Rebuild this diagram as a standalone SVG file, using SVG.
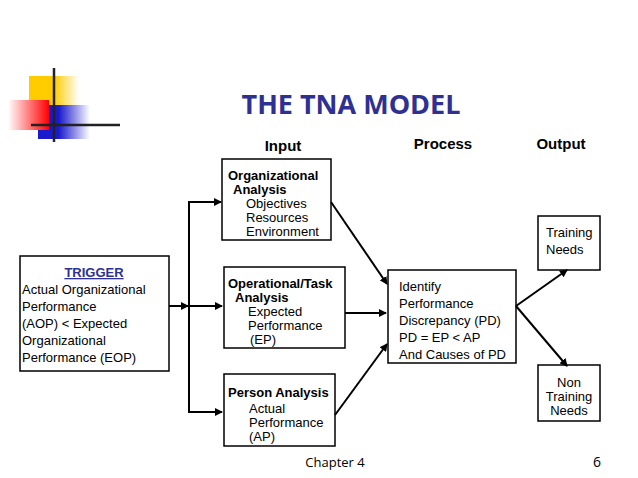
<svg xmlns="http://www.w3.org/2000/svg" width="638" height="478" viewBox="0 0 638 478">
<style>
.b{fill:#fff;stroke:#000;stroke-width:1.5}
text{font-family:"Liberation Sans",Arial,sans-serif;font-size:13px;fill:#000}
.bd{font-weight:bold}
.h{font-size:15px;font-weight:bold}
.c{stroke:#000;stroke-width:2;fill:none}
</style>
<defs>
<marker id="a" markerWidth="8" markerHeight="8" refX="7" refY="4" orient="auto" markerUnits="userSpaceOnUse"><path d="M0,0L8,4L0,8z" fill="#000"/></marker>
<linearGradient id="gy" x1="0" x2="1"><stop offset="0.5" stop-color="#ffcc00"/><stop offset="1" stop-color="#fff"/></linearGradient>
<linearGradient id="gr" x1="1" x2="0"><stop offset="0" stop-color="#ff0000"/><stop offset="1" stop-color="#fff"/></linearGradient>
<linearGradient id="gb" x1="0" x2="1"><stop offset="0.4" stop-color="#1a1acc"/><stop offset="1" stop-color="#fff"/></linearGradient>
</defs>
<rect width="638" height="478" fill="#fff"/>
<g id="logo">
<rect x="29" y="76" width="50" height="30" fill="url(#gy)"/>
<rect x="38" y="105" width="52" height="34" fill="url(#gb)"/>
<rect x="8" y="100" width="41" height="30" fill="url(#gr)"/>
<line x1="54" y1="68" x2="54" y2="142" stroke="#222" stroke-width="2.5"/>
<line x1="31" y1="125" x2="120" y2="125" stroke="#222" stroke-width="2.5"/>
</g>
<text x="351" y="114" text-anchor="middle" style="font-family:'Open Sans','Noto Sans',sans-serif;font-size:27px;font-weight:bold;fill:#2e3192">THE TNA MODEL</text>
<text x="283" y="151" text-anchor="middle" class="h">Input</text>
<text x="443" y="149" text-anchor="middle" class="h">Process</text>
<text x="561" y="149" text-anchor="middle" class="h">Output</text>
<g id="trigger"><rect class="b" x="20" y="256" width="149" height="115"/>
<text x="94" y="277" text-anchor="middle" class="bd" style="fill:#2e3192;text-decoration:underline">TRIGGER</text>
<text x="22" y="294">Actual Organizational</text><text x="22" y="311">Performance</text><text x="22" y="328">(AOP) &lt; Expected</text><text x="22" y="345">Organizational</text><text x="22" y="362"> Performance (EOP)</text></g>
<g id="org"><rect class="b" x="222" y="159" width="109" height="81"/>
<text x="228" y="180" class="bd">Organizational</text><text x="233" y="194" class="bd">Analysis</text>
<text x="246" y="208">Objectives</text><text x="246" y="222">Resources</text><text x="246" y="236">Environment</text></g>
<g id="op"><rect class="b" x="224" y="267" width="121" height="81"/>
<text x="228" y="288" class="bd">Operational/Task</text><text x="235" y="302" class="bd">Analysis</text>
<text x="248" y="316">Expected</text><text x="248" y="330">Performance</text><text x="250" y="344">(EP)</text></g>
<g id="person"><rect class="b" x="224" y="374" width="111" height="72"/>
<text x="228" y="397" class="bd">Person Analysis</text>
<text x="249" y="413">Actual</text><text x="249" y="427">Performance</text><text x="249" y="441">(AP)</text></g>
<g id="process"><rect class="b" x="388" y="270" width="128" height="93"/>
<text x="399" y="291">Identify</text><text x="399" y="308">Performance</text><text x="399" y="325">Discrepancy (PD)</text><text x="399" y="342">PD = EP &lt; AP</text><text x="399" y="359">And Causes of PD</text></g>
<g id="training"><rect class="b" x="538" y="216" width="62" height="54"/>
<text x="546" y="237">Training</text><text x="546" y="254">Needs</text></g>
<g id="nontraining"><rect class="b" x="538" y="365" width="62" height="56"/>
<text x="569" y="387" text-anchor="middle">Non</text><text x="569" y="401" text-anchor="middle">Training</text><text x="569" y="415" text-anchor="middle">Needs</text></g>
<g id="connectors">
<path class="c" d="M169,306H188" marker-end="url(#a)"/>
<path class="c" d="M220,202H189V412H220" />
<path class="c" d="M189,202H221" marker-end="url(#a)"/>
<path class="c" d="M189,306H222" marker-end="url(#a)"/>
<path class="c" d="M189,412H222" marker-end="url(#a)"/>
<path class="c" d="M345,313H386" marker-end="url(#a)"/>
<path class="c" d="M331,202L387,284" marker-end="url(#a)"/>
<path class="c" d="M335,415L387,344" marker-end="url(#a)"/>
<path class="c" d="M516,306L567,270" marker-end="url(#a)"/>
<path class="c" d="M516,306L567,366" marker-end="url(#a)"/>
</g>
<text x="335" y="467" text-anchor="middle" style="font-family:'Open Sans',sans-serif;font-size:13px">Chapter 4</text>
<text x="597" y="467" text-anchor="middle" style="font-family:'Open Sans',sans-serif;font-size:14px">6</text>
</svg>
